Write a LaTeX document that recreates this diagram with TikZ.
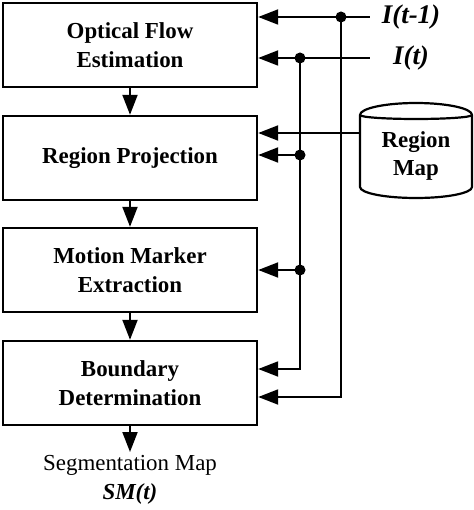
\documentclass[tikz,border=0pt]{standalone}
\usepackage{fontspec}
\setmainfont{Liberation Serif}
\usepackage{tikz}
\usetikzlibrary{arrows.meta}

\begin{document}
\begin{tikzpicture}[x=1bp,y=-1bp,
	feed/.style={line width=2bp,-{Triangle[length=20bp,width=15bp]}}]
\useasboundingbox (0,0) rectangle (474,510);
\begin{scope}[every node/.style={rectangle,draw,line width=2.4bp,minimum width=254bp,minimum height=84bp,align=center,font=\bfseries\fontsize{23}{29}\selectfont}]
	\node (flow) at (130,45) {Optical Flow\\Estimation};
	\node (proj) at (130,158) {Region Projection};
	\node (marker) at (130,270) {Motion Marker\\Extraction};
	\node (bound) at (130,383) {Boundary\\Determination};
\end{scope}

% inputs and stored region map
\node[minimum width=82bp,font=\bfseries\itshape\fontsize{27}{29}\selectfont] (prev) at (411,17) {I(t-1)};
\node[minimum width=82bp,font=\bfseries\itshape\fontsize{27}{29}\selectfont] (cur) at (411,58) {I(t)};
\node[align=center,font=\bfseries\fontsize{23}{29}\selectfont] (map) at (416,156) {Region\\Map};
\draw[line width=2.2bp] (360,115) arc (180:360:56 and 12) -- (472,187) arc (0:180:56 and 11) -- cycle;
\draw[line width=2.2bp] (360,115) arc (180:0:56 and 4);

% output
\node[anchor=north,align=center,font=\fontsize{23}{29}\selectfont] (seg) at (130,452) {Segmentation Map\\\textbf{\textit{SM(t)}}};

\coordinate (tapA1) at (341,17);
\coordinate (tapB1) at (300,58);
\coordinate (tapB2) at (300,155);
\coordinate (tapB3) at (300,270);
\coordinate (mapout) at (360,133);

\draw[feed] (flow.south) -- (proj.north);
\draw[feed] (proj.south) -- (marker.north);
\draw[feed] (marker.south) -- (bound.north);
\draw[feed] (bound.south) -- (seg.north);
\draw[feed] (prev.west) -- (flow.east |- prev.west);
\draw[feed] (cur.west) -- (flow.east |- cur.west);
\draw[feed] (mapout) -- (proj.east |- mapout);
\draw[feed] (tapB2) -- (proj.east |- tapB2);
\draw[feed] (tapB3) -- (marker.east |- tapB3);
\draw[feed] (tapB1) |- ([yshift=14bp]bound.east);
\draw[feed] (tapA1) |- ([yshift=-14bp]bound.east);
\foreach \t in {tapA1,tapB1,tapB2,tapB3}
	\fill (\t) circle (5.5bp);
\end{tikzpicture}
\end{document}
